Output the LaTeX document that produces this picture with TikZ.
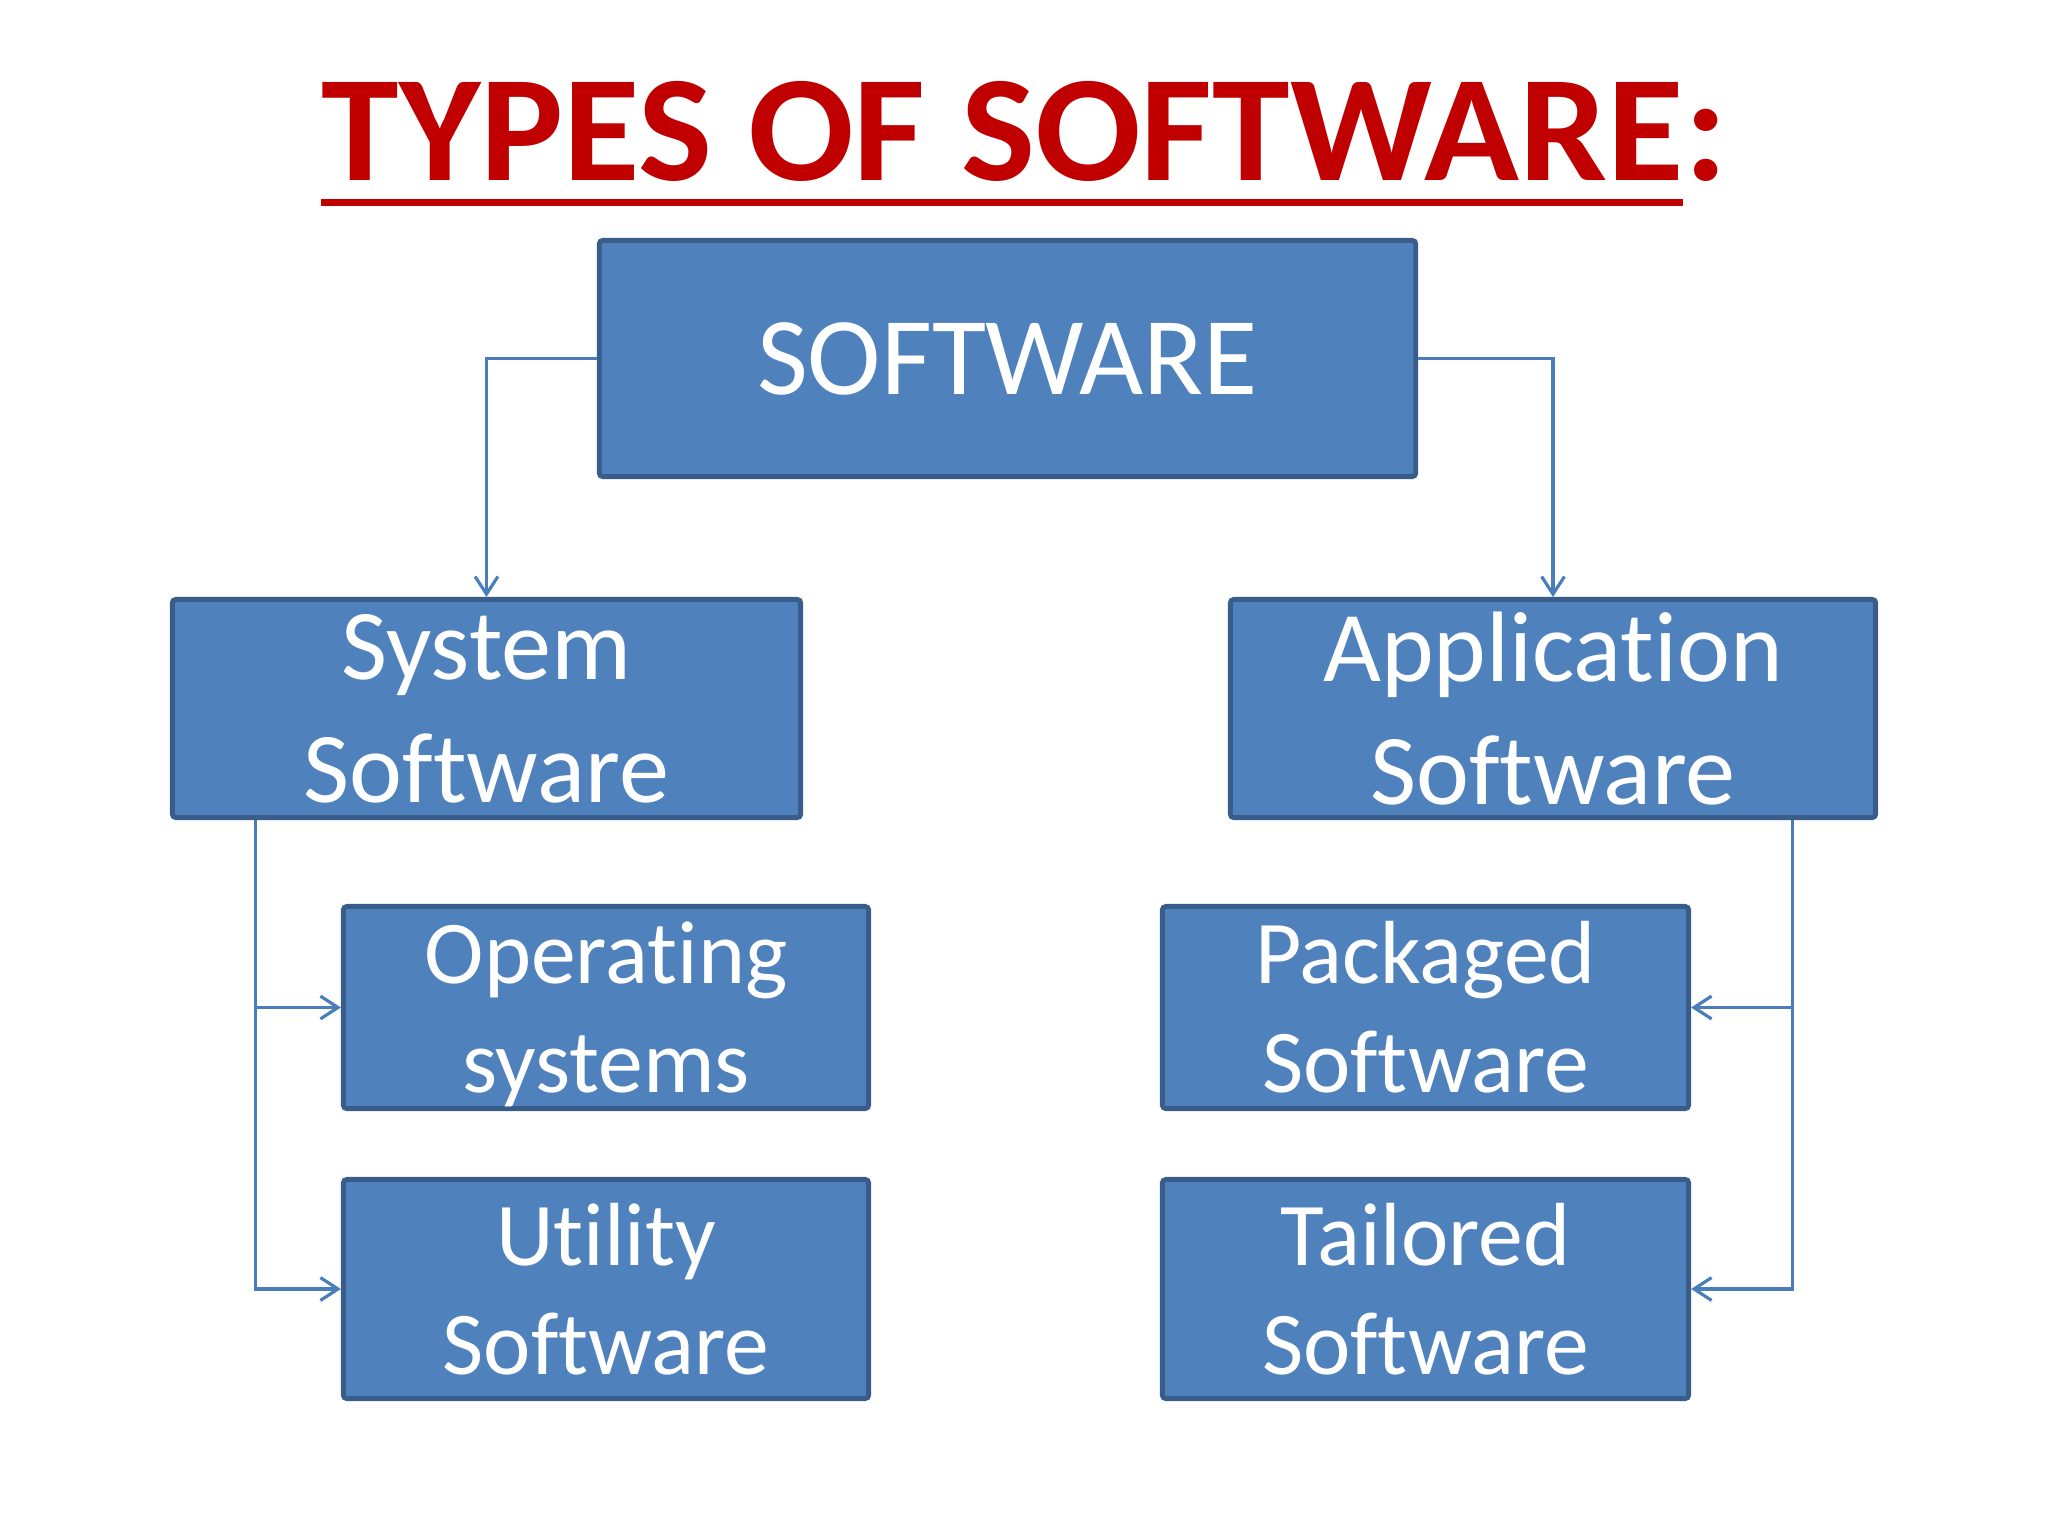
\documentclass[tikz,border=0pt]{standalone}
\usepackage{fontspec}
\setmainfont{Carlito}[Ligatures=CommonOff]
\usetikzlibrary{arrows.meta}
\definecolor{titlered}{HTML}{C00000}
\definecolor{boxfill}{HTML}{4F81BD}
\definecolor{boxline}{HTML}{385D8A}
\definecolor{connline}{HTML}{4A7EBB}

\begin{document}
\begin{tikzpicture}[x=0.01cm, y=-0.01cm,
    box/.style={draw=boxline, fill=boxfill, line width=1.4pt, rounded corners=1pt,
      inner sep=0pt, text=white, align=center},
    toprow/.style={font=\fontsize{28.5}{35}\selectfont},
    lowrow/.style={font=\fontsize{25.5}{31}\selectfont},
    conn/.style={draw=connline, line width=0.9pt, -{Straight Barb[length=5pt,width=6.5pt]}}]
    \useasboundingbox (0,0) rectangle (2048,1536);
    \node[anchor=base west, inner sep=0pt, text=titlered, font=\fontsize{43}{50}\selectfont\bfseries] (t) at (321, 180) {\scalebox{1.035}[1]{TYPES OF SOFTWARE:}};
    \draw[titlered, line width=2pt] ([yshift=-0.225cm]t.base west) -- ++(1362, 0);
    \node[box, minimum width=8.16cm, minimum height=2.36cm, font=\fontsize{31.5}{38}\selectfont] (sw) at (1007.5, 358.5) {SOFTWARE};
    \node[box, toprow, minimum width=6.28cm, minimum height=2.18cm] (sys) at (486.5, 708.5) {System\\Software};
    \node[box, toprow, minimum width=6.45cm, minimum height=2.18cm] (app) at (1553, 708.5) {Application\\Software};
    \node[box, lowrow, minimum width=5.25cm, minimum height=2.02cm] (os) at (606, 1007.5) {Operating\\\raisebox{0pt}[\height][0pt]{systems}};
    \node[box, lowrow, minimum width=5.25cm, minimum height=2.19cm] (ut) at (606, 1289) {Utility\\Software};
    \node[box, lowrow, minimum width=5.26cm, minimum height=2.02cm] (pk) at (1425.5, 1007.5) {Packaged\\Software};
    \node[box, lowrow, minimum width=5.26cm, minimum height=2.19cm] (tl) at (1425.5, 1289) {Tailored\\Software};
    \draw[conn] (sw.west) -| (sys.north);
    \draw[conn] (sw.east) -| (app.north);
    \draw[conn] ([xshift=-2.305cm]sys.south) |- (os.west);
    \draw[conn] ([xshift=-2.305cm]sys.south) |- (ut.west);
    \draw[conn] ([xshift=2.39cm]app.south) |- (pk.east);
    \draw[conn] ([xshift=2.39cm]app.south) |- (tl.east);
\end{tikzpicture}
\end{document}
